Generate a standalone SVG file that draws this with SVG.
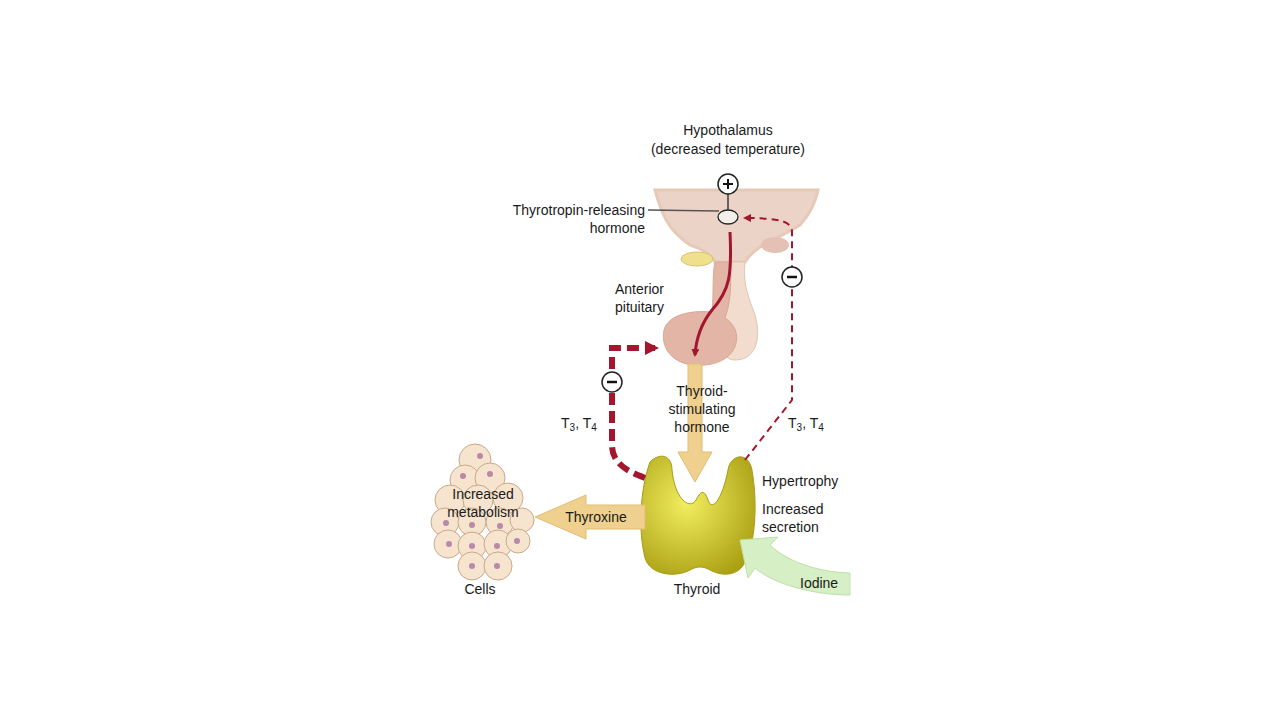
<svg xmlns="http://www.w3.org/2000/svg" width="1280" height="720" viewBox="0 0 1280 720">
<style>
text{font-family:"Liberation Sans",Arial,sans-serif;font-size:14px;fill:#1a1a1a}
.c{text-anchor:middle}
.cell{fill:#f6e4cf;stroke:#c9a98a;stroke-width:1}
.dot{fill:#b98aa8}
.red{stroke:#a3162e;fill:none}
.sign{fill:#fff;stroke:#222;stroke-width:1.5}
</style>
<defs>
<marker id="ah" markerWidth="8" markerHeight="8" refX="6" refY="4" orient="auto" markerUnits="userSpaceOnUse"><path d="M0,0 L8,4 L0,8 z" fill="#a3162e"/></marker>
<marker id="ah2" markerWidth="14" markerHeight="14" refX="10" refY="7" orient="auto" markerUnits="userSpaceOnUse"><path d="M0,0 L14,7 L0,14 z" fill="#a3162e"/></marker>
<radialGradient id="thy" cx="0.4" cy="0.4" r="0.7"><stop offset="0" stop-color="#f2ee60"/><stop offset="1" stop-color="#a9a012"/></radialGradient>
</defs>
<rect width="1280" height="720" fill="#fff"/>
<g id="hypothalamus">
<path d="M655,190 C662,215 668,230 690,245 C705,250 712,255 715,262 L745,262 C755,245 780,238 800,225 C812,212 816,200 818,190 Z" fill="#ecd3c8" stroke="#e6c9b6" stroke-width="3"/>
<ellipse cx="697" cy="259" rx="16" ry="7" fill="#f0df8c" stroke="#d9c36a"/>
<ellipse cx="775" cy="245" rx="14" ry="8" fill="#e5c0b4"/>
<text class="c" x="728" y="135">Hypothalamus</text>
<text class="c" x="728" y="154">(decreased temperature)</text>
</g>
<g id="pituitary">
<path d="M718,262 L745,262 C742,285 750,300 755,315 C762,340 755,360 735,360 C720,360 718,340 722,310 C724,290 716,275 718,262 Z" fill="#f2dccd" stroke="#e0c5b0"/>
<path d="M715,262 L730,262 C732,285 730,305 725,318 C745,330 740,362 705,365 C675,368 660,350 664,330 C668,315 690,310 712,312 C714,295 712,275 715,262 Z" fill="#e2b5a6" stroke="#d8a896"/>
<text x="615" y="294">Anterior</text>
<text x="615" y="312">pituitary</text>
</g>
<g id="trh">
<ellipse cx="728" cy="217" rx="10" ry="7" fill="#f2efe8" stroke="#222" stroke-width="1.3"/>
<text x="645" y="215" text-anchor="end">Thyrotropin-releasing</text>
<text x="645" y="233" text-anchor="end">hormone</text>
</g>
<g id="thyroid">
<path d="M650,462 C660,452 672,455 672,470 C675,500 690,510 696,500 C700,492 704,488 708,500 C712,512 722,500 728,470 C730,455 748,450 752,470 C758,505 755,545 745,562 C740,574 725,578 710,570 C703,566 697,566 690,570 C675,578 650,575 645,558 C638,530 640,490 650,462 Z" fill="url(#thy)" stroke="#a99a15"/>
<text class="c" x="697" y="594">Thyroid</text>
<text x="762" y="486">Hypertrophy</text>
<text x="762" y="514">Increased</text>
<text x="762" y="532">secretion</text>
</g>
<g id="cells">
<circle class="cell" cx="475" cy="460" r="16"/>
<circle class="cell" cx="465" cy="480" r="15"/><circle class="cell" cx="490" cy="478" r="15"/>
<circle class="cell" cx="450" cy="500" r="15"/><circle class="cell" cx="478" cy="500" r="15"/><circle class="cell" cx="508" cy="498" r="15"/>
<circle class="cell" cx="445" cy="522" r="14"/><circle class="cell" cx="472" cy="522" r="14"/><circle class="cell" cx="500" cy="522" r="14"/><circle class="cell" cx="522" cy="520" r="12"/>
<circle class="cell" cx="448" cy="544" r="14"/><circle class="cell" cx="472" cy="546" r="14"/><circle class="cell" cx="498" cy="544" r="14"/><circle class="cell" cx="518" cy="541" r="12"/>
<circle class="cell" cx="472" cy="566" r="14"/><circle class="cell" cx="498" cy="566" r="14"/>
<g class="dot"><circle cx="480" cy="456" r="3"/><circle cx="463" cy="476" r="3"/><circle cx="490" cy="474" r="3"/><circle cx="446" cy="523" r="3"/><circle cx="472" cy="525" r="3"/><circle cx="500" cy="526" r="3"/><circle cx="449" cy="544" r="3"/><circle cx="472" cy="546" r="3"/><circle cx="497" cy="546" r="3"/><circle cx="517" cy="541" r="3"/><circle cx="472" cy="566" r="3"/><circle cx="497" cy="566" r="3"/></g>
<text class="c" x="483" y="499">Increased</text>
<text class="c" x="483" y="517">metabolism</text>
<text class="c" x="480" y="594">Cells</text>
</g>
<g id="connectors">
<path d="M688,364 L702,364 L702,452 L712,452 L695,482 L678,452 L688,452 Z" fill="#efd08e" stroke="#e0bd74"/>
<path d="M645,505 L586,505 L586,495 L535,517 L586,539 L586,529 L645,529 Z" fill="#efd08e" stroke="#e0bd74"/>
<text class="c" x="596" y="522">Thyroxine</text>
<path d="M850,573 C815,572 785,560 770,545 L778,537 L740,540 L748,578 L755,568 C775,585 815,595 850,595 Z" fill="#d6efc5" stroke="#bfe0aa"/>
<text x="800" y="588">Iodine</text>
<path class="red" stroke-width="3" d="M730,232 C732,275 730,290 712,310 C700,325 696,340 695,355" marker-end="url(#ah)"/>
<path class="red" stroke-width="2" stroke-dasharray="7,5" d="M745,460 L792,400 L792,232 C792,222 782,218 745,218" marker-end="url(#ah)"/>
<path class="red" stroke-width="6" stroke-dasharray="12,6" d="M645,478 C630,472 612,465 612,445 L612,348 L655,348" marker-end="url(#ah2)"/>
<line x1="728" y1="194" x2="728" y2="210" stroke="#222" stroke-width="1.3"/>
<line x1="648" y1="210" x2="719" y2="211" stroke="#555" stroke-width="1.3"/>
<circle class="sign" cx="728" cy="184" r="10"/>
<path d="M723,184 H733 M728,179 V189" stroke="#111" stroke-width="2"/>
<circle class="sign" cx="792" cy="277" r="10"/>
<path d="M787,277 H797" stroke="#111" stroke-width="2.5"/>
<circle class="sign" cx="612" cy="382" r="10"/>
<path d="M607,382 H617" stroke="#111" stroke-width="2.5"/>
<text class="c" x="702" y="396">Thyroid-</text>
<text class="c" x="702" y="414">stimulating</text>
<text class="c" x="702" y="432">hormone</text>
<text x="561" y="428">T<tspan font-size="10" dy="3">3</tspan><tspan dy="-3">, T</tspan><tspan font-size="10" dy="3">4</tspan></text>
<text x="788" y="428">T<tspan font-size="10" dy="3">3</tspan><tspan dy="-3">, T</tspan><tspan font-size="10" dy="3">4</tspan></text>
</g>
</svg>
